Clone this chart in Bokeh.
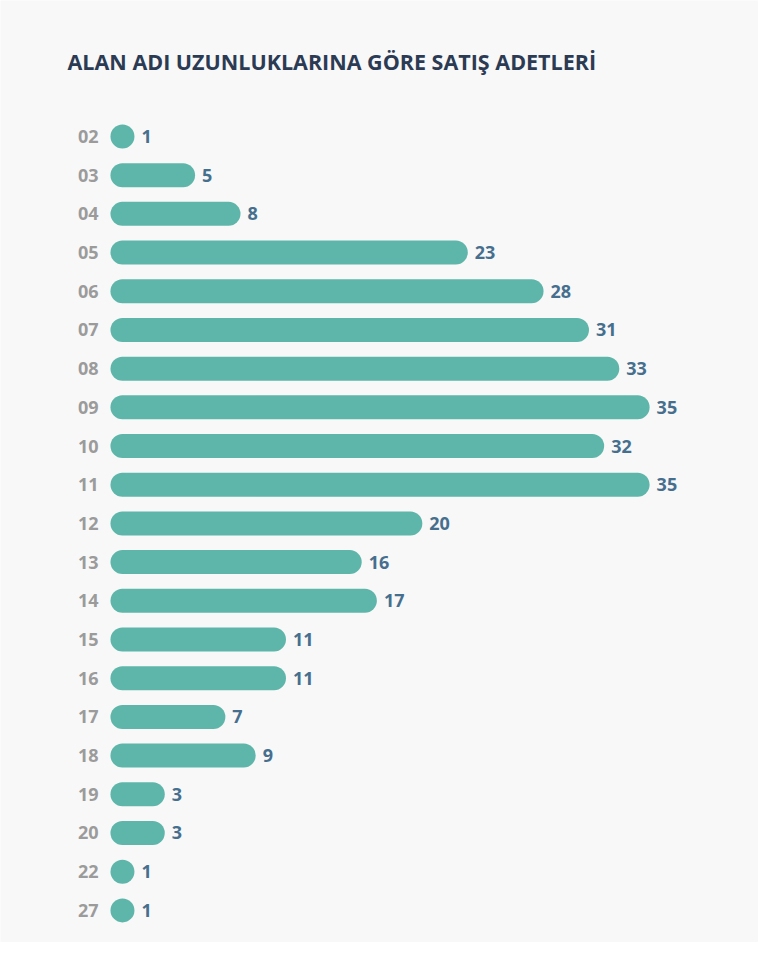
#!/usr/bin/env python3
from bokeh.plotting import figure
from bokeh.models import ColumnDataSource, Range1d, Label
from bokeh.core.properties import value
from bokeh.embed import file_html
from bokeh.resources import INLINE

title = "ALAN ADI UZUNLUKLARINA GÖRE SATIŞ ADETLERİ"
lengths = ["02", "03", "04", "05", "06", "07", "08", "09", "10", "11", "12",
           "13", "14", "15", "16", "17", "18", "19", "20", "22", "27"]
sales = [1, 5, 8, 23, 28, 31, 33, 35, 32, 35, 20, 16, 17, 11, 11, 7, 9, 3, 3, 1, 1]

BAR = "#5db6a9"
VAL = "#466f8e"
CAT = "#9b9b9b"
TITLE = "#2c3b54"
BG = "#f8f8f8"
FONT = "Open Sans"

rows = list(range(len(lengths)))
src = ColumnDataSource(dict(
    y=rows,
    base=[1] * len(sales),
    v=sales,
    cat=lengths,
    txt=[str(s) for s in sales],
))

p = figure(width=758, height=942, output_backend="svg", toolbar_location=None,
           x_range=Range1d(-7.05, 42.98), y_range=Range1d(20.83, -3.514),
           min_border=0)
p.axis.visible = False
p.grid.visible = False
p.outline_line_color = None
p.background_fill_color = BG
p.border_fill_color = BG

# rounded bars: value 1 is a single dot
p.segment(x0="base", y0="y", x1="v", y1="y", source=src,
          line_color=BAR, line_width=24, line_cap="round")

p.text(x="base", y="y", text="cat", source=src, x_offset=-24,
       text_align="right", text_baseline="middle",
       text_font=value(FONT), text_font_style="bold",
       text_font_size="18px", text_color=CAT)

p.text(x="v", y="y", text="txt", source=src, x_offset=19,
       text_align="left", text_baseline="middle",
       text_font=value(FONT), text_font_style="bold",
       text_font_size="18px", text_color=VAL)

p.add_layout(Label(x=67, y=867, x_units="screen", y_units="screen",
                   text=title, text_font=FONT, text_font_style="bold",
                   text_font_size="21.5px", text_color=TITLE))

open("out.html", "w").write(file_html(p, INLINE))
